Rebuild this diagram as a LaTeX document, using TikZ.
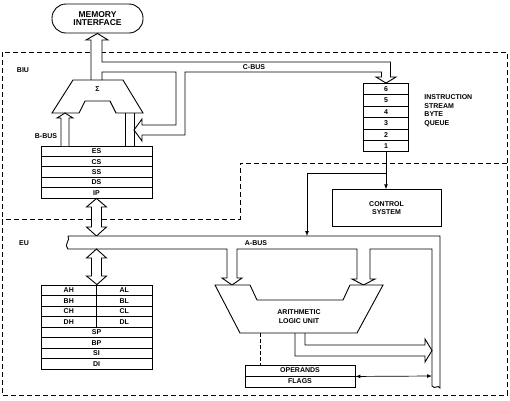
\documentclass[tikz,border=0pt]{standalone}
\usepackage{fontspec}
\setmainfont{Liberation Sans}
\begin{document}
\begin{tikzpicture}[x=1pt,y=-1pt,line width=0.9pt,
	lbl/.style={inner sep=0pt,font=\bfseries\fontsize{7}{8.5}\selectfont},
	reg/.style={draw,minimum width=111pt,minimum height=10.4pt,inner sep=0pt,font=\bfseries\fontsize{7}{8}\selectfont},
	halfreg/.style={reg,minimum width=55.5pt,minimum height=10.5pt},
	qreg/.style={reg,minimum width=45pt,minimum height=11.4pt},
	unit/.style={draw,inner sep=0pt,align=center,font=\bfseries\fontsize{7}{8.5}\selectfont},
	pipe/.style={draw,fill=white,line join=miter},
	border/.style={line width=0.9pt,dash pattern=on 5pt off 3pt},
	signal/.style={line width=0.7pt,-latex}]
	
	\useasboundingbox (0,0) rectangle (510,400);
	
	\draw[border] (2,52) rectangle (507,395);
	\draw[border] (507,163) -- (240,163) -- (240,219) -- (2,219);
	\node[lbl] at (23,70) (biu) {BIU};
	\node[lbl] at (24,243) (eu) {EU};
	
	\node[unit,minimum width=91pt,minimum height=29pt,rounded corners=14pt,font=\bfseries\fontsize{8.5}{8.5}\selectfont] at (97.5,18.5) (mem) {MEMORY\\INTERFACE};
	
	\foreach \r [count=\i] in {ES,CS,SS,DS,IP}
		\node[reg] at (96.5,{140.8+10.4*\i}) (\r) {\r};
	
	\foreach \n [count=\i] in {6,...,1}
		\node[qreg] at (386,{77.8+11.4*\i}) (q\n) {\n};
	\node[lbl,align=left,anchor=west,font=\bfseries\fontsize{7}{8.9}\selectfont] at (424,110.7) (qlabel) {INSTRUCTION\\STREAM\\BYTE\\QUEUE};
	
	\draw[pipe] (91,80) -- (91,40) -- (86,40) -- (mem.south) -- (108,40) -- (102,40) -- (102,62) -- (390.5,62) -- (390.5,77) -- (396,77) -- (q6.north) -- (376,77) -- (381.5,77) -- (381.5,72) -- (185,72) -- (185,135) -- (142,135) -- (142,141) -- (134,130) -- (142,119) -- (142,125) -- (176,125) -- (176,72) -- (102,72) -- (102,80);
	\node[lbl] at (254,67) (cbus) {C-BUS};
	
	\draw[pipe] (73,80) -- (123,80) -- (143,113) -- (116,113) -- (110,101) -- (85,101) -- (79,113) -- (52,113) -- cycle;
	\node[lbl] at (97.5,89) (sigma) {Σ};
	
	\draw[pipe] (61,146) -- (61,118) -- (57,118) -- (65,113) -- (73,118) -- (69,118) -- (69,146);
	\draw (125,113) -- (125,146) (134,113) -- (134,146);
	\node[lbl] at (46,136) (bbus) {B-BUS};
	
	\draw[pipe] (IP.south) -- (106.5,207) -- (101.5,207) -- (101.5,227) -- (106.5,227) -- (96.5,236) -- (86.5,227) -- (91.5,227) -- (91.5,207) -- (86.5,207) -- cycle;
	
	\draw[pipe] (68,236) -- (440,236) -- (440,388) .. controls (438,384) and (435,390) .. (432,386) -- (432,249) -- (370,249) -- (370,279) -- (375,279) -- (363.5,285) -- (352,279) -- (357,279) -- (357,249) -- (237,249) -- (237,278) -- (242,278) -- (232,285) -- (222,278) -- (227,278) -- (227,249) -- (68,249) .. controls (63,245) and (71,240) .. (68,236);
	\node[lbl] at (256,243) (abus) {A-BUS};
	
	\foreach \h/\l [count=\i] in {AH/AL,BH/BL,CH/CL,DH/DL}{
		\node[halfreg] at (68.75,{279.75+10.5*\i}) (\h) {\h};
		\node[halfreg] at (124.25,{279.75+10.5*\i}) (\l) {\l};
	}
	\foreach \r [count=\i from 5] in {SP,BP,SI,DI}
		\node[reg,minimum height=10.5pt] at (96.5,{279.75+10.5*\i}) (\r) {\r};
	
	\draw[pipe] (96.5,249) -- (106.5,258) -- (101.5,258) -- (101.5,276) -- (106.5,276) -- (AH.north east) -- (86.5,276) -- (91.5,276) -- (91.5,258) -- (86.5,258) -- cycle;
	
	\node[unit,minimum width=109pt,minimum height=36.5pt] at (386.5,208) (ctrl) {CONTROL\\SYSTEM};
	\draw[signal] (q1.south) -- (q1.south |- ctrl.north);
	\coordinate (tap) at (386,173);
	\coordinate (abustap) at (307,236);
	\draw[signal] (tap) -| (abustap);
	
	\draw (295,333) -- (295,356) -- (425,356) -- (425,362) -- (432,350.5) -- (425,339) -- (425,345) -- (305,345) -- (305,333);
	\draw[pipe] (215,285) -- (250,285) -- (257,300) -- (343,300) -- (350,285) -- (383,285) -- (357,333) -- (240,333) -- cycle;
	\node[unit,draw=none] at (299,316.5) (alu) {ARITHMETIC\\LOGIC UNIT};
	
	\node[unit,minimum width=110pt,minimum height=11pt] at (300,370.5) (operands) {OPERANDS};
	\node[unit,minimum width=110pt,minimum height=11pt] at (300,381.5) (flags) {FLAGS};
	\coordinate (aluflag) at (260,333);
	\draw[line width=0.7pt,dash pattern=on 4pt off 2pt] (aluflag) -- (aluflag |- operands.north);
	\coordinate (abusin) at (432,376);
	\draw[signal,latex-latex] (operands.south east) -- (abusin);
	
\end{tikzpicture}
\end{document}
